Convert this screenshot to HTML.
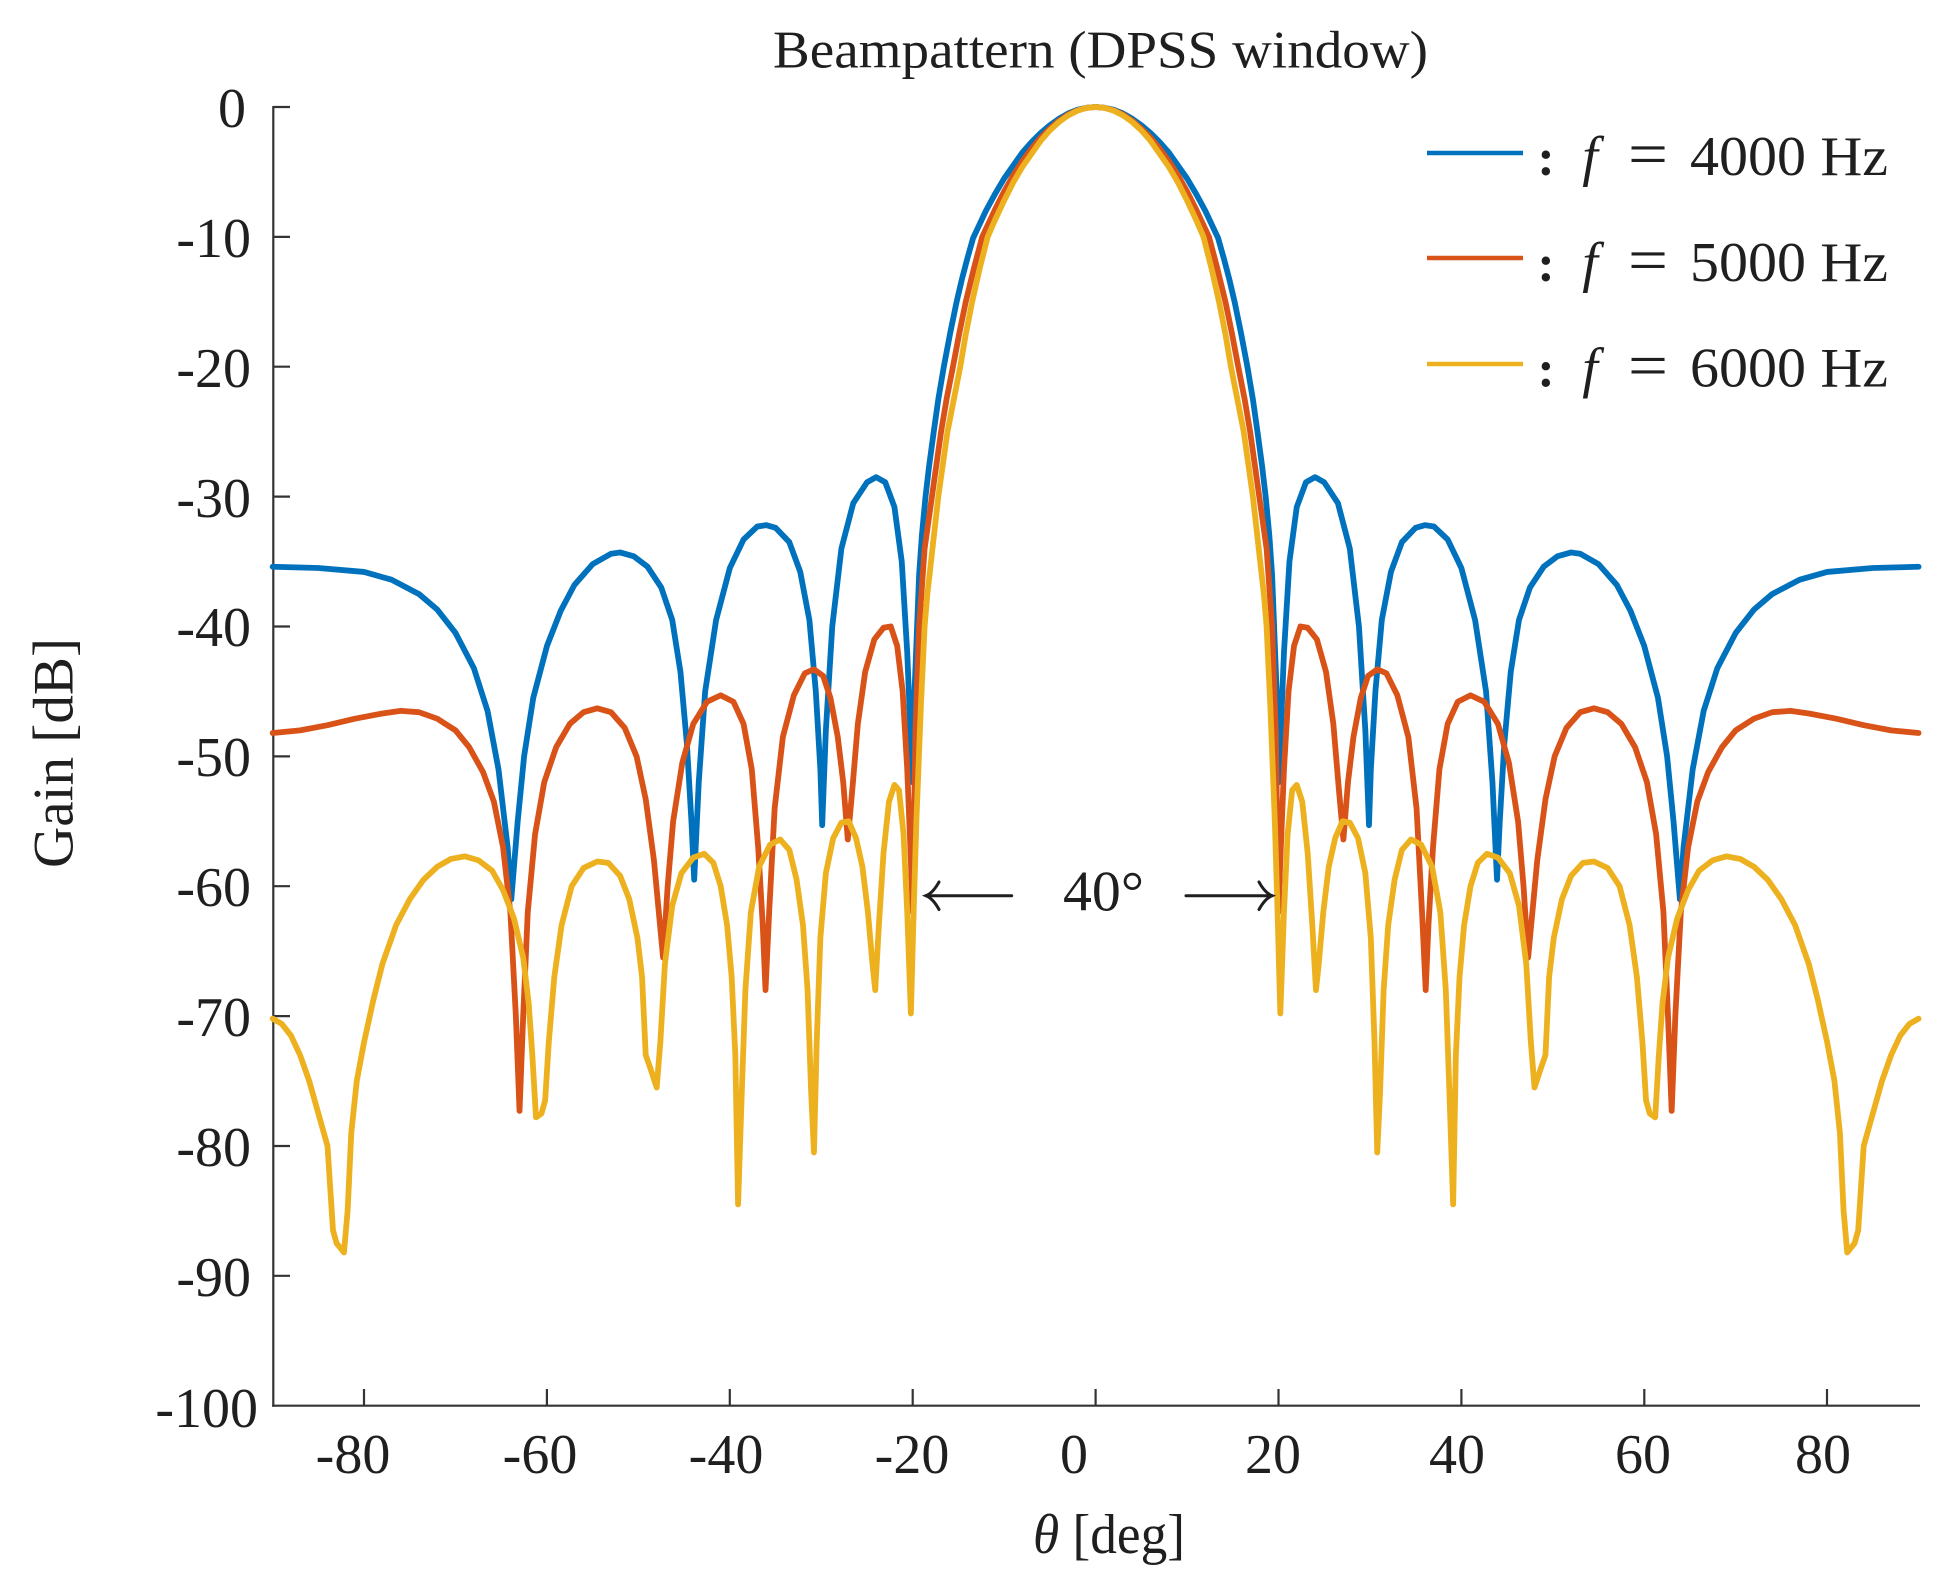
<!DOCTYPE html>
<html>
<head>
<meta charset="utf-8">
<style>
html,body{margin:0;padding:0;background:#fff;}
svg{display:block;}
text{font-family:"Liberation Serif","DejaVu Serif",serif;fill:#1f1f1f;}
</style>
</head>
<body>
<svg width="1960" height="1571" viewBox="0 0 1960 1571" xmlns="http://www.w3.org/2000/svg">
<rect x="0" y="0" width="1960" height="1571" fill="#ffffff"/>

<!-- Title -->
<text x="773" y="67.5" font-size="53" textLength="655" lengthAdjust="spacingAndGlyphs">Beampattern (DPSS window)</text>

<!-- Axes -->
<g stroke="#333333" stroke-width="2.2" fill="none">
  <line x1="273.3" y1="106" x2="273.3" y2="1406.8"/>
  <line x1="272.2" y1="1405.7" x2="1920" y2="1405.7"/>
  <line x1="273.3" y1="107" x2="290" y2="107"/>
  <line x1="273.3" y1="236.9" x2="290" y2="236.9"/>
  <line x1="273.3" y1="366.7" x2="290" y2="366.7"/>
  <line x1="273.3" y1="496.6" x2="290" y2="496.6"/>
  <line x1="273.3" y1="626.5" x2="290" y2="626.5"/>
  <line x1="273.3" y1="756.4" x2="290" y2="756.4"/>
  <line x1="273.3" y1="886.2" x2="290" y2="886.2"/>
  <line x1="273.3" y1="1016.1" x2="290" y2="1016.1"/>
  <line x1="273.3" y1="1146" x2="290" y2="1146"/>
  <line x1="273.3" y1="1275.8" x2="290" y2="1275.8"/>
  <line x1="364" y1="1405.7" x2="364" y2="1389"/>
  <line x1="546.9" y1="1405.7" x2="546.9" y2="1389"/>
  <line x1="729.8" y1="1405.7" x2="729.8" y2="1389"/>
  <line x1="912.7" y1="1405.7" x2="912.7" y2="1389"/>
  <line x1="1095.6" y1="1405.7" x2="1095.6" y2="1389"/>
  <line x1="1278.5" y1="1405.7" x2="1278.5" y2="1389"/>
  <line x1="1461.4" y1="1405.7" x2="1461.4" y2="1389"/>
  <line x1="1644.3" y1="1405.7" x2="1644.3" y2="1389"/>
  <line x1="1827" y1="1405.7" x2="1827" y2="1389"/>
</g>

<!-- y tick labels -->
<g font-size="56" text-anchor="end">
  <text x="246" y="127">0</text>
  <text x="251" y="257">-10</text>
  <text x="251" y="387">-20</text>
  <text x="251" y="517">-30</text>
  <text x="251" y="646">-40</text>
  <text x="251" y="776">-50</text>
  <text x="251" y="906">-60</text>
  <text x="251" y="1036">-70</text>
  <text x="251" y="1166">-80</text>
  <text x="251" y="1296">-90</text>
  <text x="258" y="1427">-100</text>
</g>

<!-- x tick labels -->
<g font-size="56" text-anchor="middle">
  <text x="353" y="1473">-80</text>
  <text x="540" y="1473">-60</text>
  <text x="726" y="1473">-40</text>
  <text x="912" y="1473">-20</text>
  <text x="1074" y="1473">0</text>
  <text x="1273" y="1473">20</text>
  <text x="1457" y="1473">40</text>
  <text x="1643" y="1473">60</text>
  <text x="1823" y="1473">80</text>
</g>

<!-- axis labels -->
<text x="1033" y="1553" font-size="56" textLength="152" lengthAdjust="spacingAndGlyphs"><tspan font-style="italic">θ</tspan> [deg]</text>
<text transform="translate(72.7,868) rotate(-90)" font-size="57" textLength="230" lengthAdjust="spacingAndGlyphs">Gain [dB]</text>

<!-- Curves -->
<g fill="none" stroke-width="5.8" stroke-linejoin="round" stroke-linecap="round">
  <!-- Blue 4000 Hz -->
  <g transform="translate(1095.6,107) scale(9.144,-12.987)">
    <polyline vector-effect="non-scaling-stroke" stroke="#0072BD" points="-90,-35.4 -85,-35.5 -80,-35.8 -77,-36.4 -74,-37.5 -72,-38.7 -70,-40.5 -68,-43.2 -66.5,-46.5 -65.3,-51 -64.3,-57 -63.9,-61 -63.2,-55 -62.5,-50 -61.5,-45.5 -60,-41.5 -58.5,-38.8 -57,-36.8 -55,-35.2 -53,-34.4 -52,-34.3 -50.5,-34.6 -49,-35.4 -47.5,-37 -46.3,-39.5 -45.4,-43.5 -44.7,-49 -44.2,-55 -43.9,-59.5 -43.4,-52 -42.7,-45 -41.5,-39.5 -40,-35.5 -38.5,-33.3 -37,-32.3 -36,-32.2 -35,-32.4 -33.5,-33.5 -32.3,-35.8 -31.3,-39.5 -30.6,-45 -30.1,-51 -29.9,-55.3 -29.5,-48 -28.8,-40 -27.8,-34 -26.5,-30.5 -25,-28.9 -24,-28.5 -23,-28.9 -22,-30.8 -21.2,-35 -20.6,-42 -20.2,-49 -20,-52 -19.8,-45 -19.3,-36 -19,-33 -18.6,-30 -18.2,-27.6 -17.7,-25 -17.2,-22.5 -16.6,-20 -15.9,-17.4 -15.2,-15 -14.6,-13.2 -14,-11.6 -13.4,-10.1 -13,-9.5 -12,-8 -11,-6.7 -10,-5.5 -9,-4.5 -8,-3.5 -7,-2.7 -6,-2 -5,-1.4 -4,-0.9 -3,-0.5 -2,-0.22 -1,-0.06 0,0"/>
  </g>
  <g transform="translate(1095.6,107) scale(-9.144,-12.987)">
    <polyline vector-effect="non-scaling-stroke" stroke="#0072BD" points="-90,-35.4 -85,-35.5 -80,-35.8 -77,-36.4 -74,-37.5 -72,-38.7 -70,-40.5 -68,-43.2 -66.5,-46.5 -65.3,-51 -64.3,-57 -63.9,-61 -63.2,-55 -62.5,-50 -61.5,-45.5 -60,-41.5 -58.5,-38.8 -57,-36.8 -55,-35.2 -53,-34.4 -52,-34.3 -50.5,-34.6 -49,-35.4 -47.5,-37 -46.3,-39.5 -45.4,-43.5 -44.7,-49 -44.2,-55 -43.9,-59.5 -43.4,-52 -42.7,-45 -41.5,-39.5 -40,-35.5 -38.5,-33.3 -37,-32.3 -36,-32.2 -35,-32.4 -33.5,-33.5 -32.3,-35.8 -31.3,-39.5 -30.6,-45 -30.1,-51 -29.9,-55.3 -29.5,-48 -28.8,-40 -27.8,-34 -26.5,-30.5 -25,-28.9 -24,-28.5 -23,-28.9 -22,-30.8 -21.2,-35 -20.6,-42 -20.2,-49 -20,-52 -19.8,-45 -19.3,-36 -19,-33 -18.6,-30 -18.2,-27.6 -17.7,-25 -17.2,-22.5 -16.6,-20 -15.9,-17.4 -15.2,-15 -14.6,-13.2 -14,-11.6 -13.4,-10.1 -13,-9.5 -12,-8 -11,-6.7 -10,-5.5 -9,-4.5 -8,-3.5 -7,-2.7 -6,-2 -5,-1.4 -4,-0.9 -3,-0.5 -2,-0.22 -1,-0.06 0,0"/>
  </g>

  <!-- Red 5000 Hz -->
  <g transform="translate(1095.6,107) scale(9.144,-12.987)">
    <polyline vector-effect="non-scaling-stroke" stroke="#D95319" points="-90,-48.2 -87,-48 -84,-47.6 -81,-47.1 -78,-46.7 -76,-46.5 -74,-46.6 -72,-47.1 -70,-48 -68.5,-49.3 -67,-51.2 -65.8,-53.5 -64.8,-57 -64,-62 -63.4,-70 -63,-77.3 -62.6,-70 -62.1,-62 -61.3,-56 -60.3,-52 -59,-49.3 -57.5,-47.5 -56,-46.6 -54.5,-46.3 -53,-46.6 -51.5,-47.8 -50.2,-50 -49.2,-53.3 -48.3,-58 -47.7,-62.5 -47.3,-65.5 -46.8,-60 -46.2,-55 -45.2,-50.5 -44,-47.5 -42.5,-45.8 -41,-45.3 -39.6,-45.8 -38.5,-47.5 -37.6,-51 -36.9,-57 -36.4,-63 -36.1,-68 -35.7,-62 -35.1,-54 -34.2,-48.5 -33,-45.3 -31.8,-43.6 -30.8,-43.3 -29.8,-43.8 -29,-45.5 -28.2,-48.5 -27.6,-52 -27.1,-56.4 -26.6,-52.5 -26,-47.5 -25.2,-43.5 -24.2,-41 -23.2,-40.1 -22.4,-40 -21.7,-41.5 -21.1,-45 -20.6,-51 -20.2,-58 -20,-62 -19.7,-48 -19.3,-40 -18.7,-34 -18.3,-32 -17.9,-30 -17.4,-27.5 -16.9,-25 -16.3,-22.5 -15.6,-20 -14.9,-17.4 -14.2,-15 -13.3,-12.4 -12.4,-10 -12,-9.4 -11,-7.9 -10,-6.5 -9,-5.25 -8,-4.15 -7,-3.2 -6,-2.35 -5,-1.65 -4,-1.05 -3,-0.58 -2,-0.26 -1,-0.07 0,0"/>
  </g>
  <g transform="translate(1095.6,107) scale(-9.144,-12.987)">
    <polyline vector-effect="non-scaling-stroke" stroke="#D95319" points="-90,-48.2 -87,-48 -84,-47.6 -81,-47.1 -78,-46.7 -76,-46.5 -74,-46.6 -72,-47.1 -70,-48 -68.5,-49.3 -67,-51.2 -65.8,-53.5 -64.8,-57 -64,-62 -63.4,-70 -63,-77.3 -62.6,-70 -62.1,-62 -61.3,-56 -60.3,-52 -59,-49.3 -57.5,-47.5 -56,-46.6 -54.5,-46.3 -53,-46.6 -51.5,-47.8 -50.2,-50 -49.2,-53.3 -48.3,-58 -47.7,-62.5 -47.3,-65.5 -46.8,-60 -46.2,-55 -45.2,-50.5 -44,-47.5 -42.5,-45.8 -41,-45.3 -39.6,-45.8 -38.5,-47.5 -37.6,-51 -36.9,-57 -36.4,-63 -36.1,-68 -35.7,-62 -35.1,-54 -34.2,-48.5 -33,-45.3 -31.8,-43.6 -30.8,-43.3 -29.8,-43.8 -29,-45.5 -28.2,-48.5 -27.6,-52 -27.1,-56.4 -26.6,-52.5 -26,-47.5 -25.2,-43.5 -24.2,-41 -23.2,-40.1 -22.4,-40 -21.7,-41.5 -21.1,-45 -20.6,-51 -20.2,-58 -20,-62 -19.7,-48 -19.3,-40 -18.7,-34 -18.3,-32 -17.9,-30 -17.4,-27.5 -16.9,-25 -16.3,-22.5 -15.6,-20 -14.9,-17.4 -14.2,-15 -13.3,-12.4 -12.4,-10 -12,-9.4 -11,-7.9 -10,-6.5 -9,-5.25 -8,-4.15 -7,-3.2 -6,-2.35 -5,-1.65 -4,-1.05 -3,-0.58 -2,-0.26 -1,-0.07 0,0"/>
  </g>

  <!-- Yellow 6000 Hz -->
  <g transform="translate(1095.6,107) scale(9.144,-12.987)">
    <polyline vector-effect="non-scaling-stroke" stroke="#EDB120" points="-90,-70.2 -89,-70.6 -88,-71.5 -87,-73 -86,-75 -85,-77.5 -84,-80 -83.4,-86.5 -83,-87.5 -82.2,-88.2 -81.8,-85 -81.4,-79 -80.8,-75 -80,-72 -79,-68.8 -78,-66 -76.5,-63 -75,-61 -73.5,-59.5 -72,-58.5 -70.5,-57.9 -69,-57.7 -67.5,-58 -66,-58.8 -64.8,-60.3 -63.6,-62.5 -62.6,-65.5 -62,-69 -61.6,-73 -61.2,-77.8 -60.6,-77.5 -60.2,-76.5 -59.8,-72 -59.2,-67 -58.4,-63 -57.3,-60 -56,-58.6 -54.5,-58.1 -53.3,-58.2 -52,-59.2 -51,-61 -50.1,-64 -49.6,-67 -49.2,-73 -48.7,-74 -48,-75.5 -47.6,-72 -47.1,-66 -46.3,-61.5 -45.3,-59 -44,-57.8 -42.8,-57.5 -41.8,-58.2 -41,-60 -40.3,-63 -39.8,-67 -39.4,-73 -39.1,-84.5 -38.7,-76 -38.3,-68 -37.7,-62 -36.8,-58.5 -35.6,-56.8 -34.5,-56.4 -33.5,-57.2 -32.7,-59.5 -32,-63 -31.5,-68 -31.1,-76 -30.8,-80.5 -30.5,-72 -30.1,-64 -29.5,-59 -28.7,-56.3 -27.8,-55.1 -27,-55 -26.2,-56.3 -25.5,-58.5 -24.9,-62 -24.4,-66 -24.1,-68 -23.7,-63 -23.2,-57.5 -22.6,-53.5 -22,-52.2 -21.5,-52.6 -21,-56 -20.6,-62 -20.2,-69.8 -19.9,-62 -19.6,-55 -19.1,-46 -18.7,-40 -18.4,-37.5 -18,-35 -17.6,-32.5 -17.2,-30 -16.7,-27.5 -16.2,-25 -15.5,-22.5 -14.8,-20 -14.2,-17.5 -13.5,-15 -12.7,-12.5 -11.8,-10 -11,-8.7 -10,-7.2 -9,-5.8 -8,-4.6 -7,-3.6 -6,-2.6 -5,-1.8 -4,-1.15 -3,-0.65 -2,-0.29 -1,-0.07 0,0"/>
  </g>
  <g transform="translate(1095.6,107) scale(-9.144,-12.987)">
    <polyline vector-effect="non-scaling-stroke" stroke="#EDB120" points="-90,-70.2 -89,-70.6 -88,-71.5 -87,-73 -86,-75 -85,-77.5 -84,-80 -83.4,-86.5 -83,-87.5 -82.2,-88.2 -81.8,-85 -81.4,-79 -80.8,-75 -80,-72 -79,-68.8 -78,-66 -76.5,-63 -75,-61 -73.5,-59.5 -72,-58.5 -70.5,-57.9 -69,-57.7 -67.5,-58 -66,-58.8 -64.8,-60.3 -63.6,-62.5 -62.6,-65.5 -62,-69 -61.6,-73 -61.2,-77.8 -60.6,-77.5 -60.2,-76.5 -59.8,-72 -59.2,-67 -58.4,-63 -57.3,-60 -56,-58.6 -54.5,-58.1 -53.3,-58.2 -52,-59.2 -51,-61 -50.1,-64 -49.6,-67 -49.2,-73 -48.7,-74 -48,-75.5 -47.6,-72 -47.1,-66 -46.3,-61.5 -45.3,-59 -44,-57.8 -42.8,-57.5 -41.8,-58.2 -41,-60 -40.3,-63 -39.8,-67 -39.4,-73 -39.1,-84.5 -38.7,-76 -38.3,-68 -37.7,-62 -36.8,-58.5 -35.6,-56.8 -34.5,-56.4 -33.5,-57.2 -32.7,-59.5 -32,-63 -31.5,-68 -31.1,-76 -30.8,-80.5 -30.5,-72 -30.1,-64 -29.5,-59 -28.7,-56.3 -27.8,-55.1 -27,-55 -26.2,-56.3 -25.5,-58.5 -24.9,-62 -24.4,-66 -24.1,-68 -23.7,-63 -23.2,-57.5 -22.6,-53.5 -22,-52.2 -21.5,-52.6 -21,-56 -20.6,-62 -20.2,-69.8 -19.9,-62 -19.6,-55 -19.1,-46 -18.7,-40 -18.4,-37.5 -18,-35 -17.6,-32.5 -17.2,-30 -16.7,-27.5 -16.2,-25 -15.5,-22.5 -14.8,-20 -14.2,-17.5 -13.5,-15 -12.7,-12.5 -11.8,-10 -11,-8.7 -10,-7.2 -9,-5.8 -8,-4.6 -7,-3.6 -6,-2.6 -5,-1.8 -4,-1.15 -3,-0.65 -2,-0.29 -1,-0.07 0,0"/>
  </g>
</g>

<!-- 40 degree annotation -->
<g stroke="#1f1f1f" stroke-width="3" fill="none" stroke-linecap="round">
  <line x1="926" y1="895.7" x2="1011.7" y2="895.7"/>
  <path d="M939,882 Q933,893 926,895.7 Q933,898.5 939,909.5"/>
  <line x1="1186" y1="895.7" x2="1272" y2="895.7"/>
  <path d="M1259,882 Q1265,893 1272,895.7 Q1265,898.5 1259,909.5"/>
</g>
<text x="1063" y="910.7" font-size="57" textLength="81" lengthAdjust="spacingAndGlyphs">40°</text>

<!-- Legend -->
<g stroke-width="4.5" stroke-linecap="butt">
  <line x1="1427" y1="153" x2="1523" y2="153" stroke="#0072BD"/>
  <line x1="1427" y1="258" x2="1523" y2="258" stroke="#D95319"/>
  <line x1="1427" y1="364" x2="1523" y2="364" stroke="#EDB120"/>
</g>
<g font-size="56">
  <text x="1546" y="175" font-weight="bold" text-anchor="middle" font-size="52">:</text>
  <text x="1590" y="175" font-style="italic" text-anchor="middle">f</text>
  <text x="1628" y="175" font-size="62" textLength="40" lengthAdjust="spacingAndGlyphs">=</text>
  <text x="1690" y="175" textLength="198" lengthAdjust="spacingAndGlyphs">4000 Hz</text>

  <text x="1546" y="280.8" font-weight="bold" text-anchor="middle" font-size="52">:</text>
  <text x="1590" y="280.8" font-style="italic" text-anchor="middle">f</text>
  <text x="1628" y="280.8" font-size="62" textLength="40" lengthAdjust="spacingAndGlyphs">=</text>
  <text x="1690" y="280.8" textLength="198" lengthAdjust="spacingAndGlyphs">5000 Hz</text>

  <text x="1546" y="386.6" font-weight="bold" text-anchor="middle" font-size="52">:</text>
  <text x="1590" y="386.6" font-style="italic" text-anchor="middle">f</text>
  <text x="1628" y="386.6" font-size="62" textLength="40" lengthAdjust="spacingAndGlyphs">=</text>
  <text x="1690" y="386.6" textLength="198" lengthAdjust="spacingAndGlyphs">6000 Hz</text>
</g>
</svg>
</body>
</html>
